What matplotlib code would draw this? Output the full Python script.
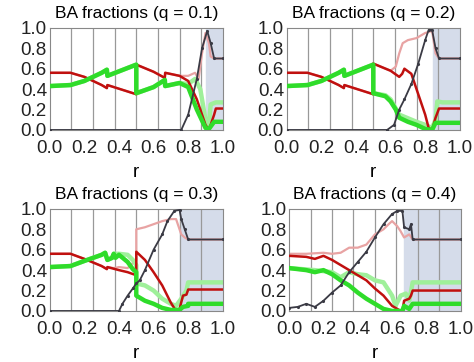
import numpy as np
import matplotlib.pyplot as plt

plt.rcParams['font.family'] = ['Liberation Sans', 'DejaVu Sans']

titles = ['BA fractions (q = 0.1)', 'BA fractions (q = 0.2)',
          'BA fractions (q = 0.3)', 'BA fractions (q = 0.4)']
shade_start = [0.905, 0.845, 0.75, 0.667]
grid_x = [0.125, 0.25, 0.375, 0.5, 0.625, 0.75, 0.875]
x_ticks = [0.0, 0.2, 0.4, 0.6, 0.8, 1.0]
y_ticks = [0.0, 0.2, 0.4, 0.6, 0.8, 1.0]

# q = 0.1
red_x1 = [0, 0.12, 0.2, 0.3, 0.33, 0.333, 0.5, 0.5, 0.6, 0.665, 0.667, 0.75, 0.8, 0.85, 0.9, 0.92, 0.95, 0.96, 1.0]
red_y1 = [0.56, 0.56, 0.52, 0.44, 0.41, 0.44, 0.35, 0.64, 0.57, 0.51, 0.56, 0.53, 0.48, 0.3, 0.05, 0.0, 0.15, 0.21, 0.21]
grn_x1 = [0, 0.12, 0.2, 0.3, 0.33, 0.333, 0.5, 0.5, 0.6, 0.665, 0.667, 0.75, 0.8, 0.85, 0.9, 0.92, 0.95, 1.0]
grn_y1 = [0.43, 0.44, 0.48, 0.56, 0.59, 0.53, 0.64, 0.36, 0.42, 0.49, 0.43, 0.46, 0.42, 0.2, 0.02, 0.01, 0.08, 0.08]
blk_x1 = [0, 0.76, 0.8, 0.85, 0.88, 0.91, 0.93, 0.95, 1.0]
blk_y1 = [0, 0, 0.15, 0.5, 0.8, 0.97, 0.85, 0.7, 0.7]
pnk_x1 = [0, 0.12, 0.2, 0.3, 0.33, 0.333, 0.5, 0.5, 0.6, 0.665, 0.667, 0.75, 0.8, 0.84, 0.86, 0.88, 0.9, 0.92, 0.93, 0.95, 1.0]
pnk_y1 = [0.56, 0.56, 0.52, 0.44, 0.41, 0.44, 0.35, 0.64, 0.57, 0.51, 0.56, 0.53, 0.53, 0.56, 0.5, 0.75, 0.95, 0.85, 0.72, 0.7, 0.7]
lgr_x1 = [0, 0.12, 0.2, 0.3, 0.33, 0.333, 0.5, 0.5, 0.6, 0.665, 0.667, 0.75, 0.8, 0.84, 0.87, 0.9, 0.92, 0.93, 0.96, 1.0]
lgr_y1 = [0.43, 0.44, 0.48, 0.56, 0.59, 0.53, 0.64, 0.36, 0.42, 0.49, 0.43, 0.46, 0.45, 0.5, 0.4, 0.1, 0.05, 0.25, 0.27, 0.27]

# q = 0.2
red_x2 = [0, 0.12, 0.2, 0.3, 0.33, 0.333, 0.5, 0.5, 0.6, 0.65, 0.667, 0.68, 0.72, 0.75, 0.8, 0.82, 0.84, 0.86, 0.88, 1.0]
red_y2 = [0.56, 0.56, 0.52, 0.44, 0.41, 0.44, 0.35, 0.65, 0.58, 0.52, 0.55, 0.6, 0.55, 0.4, 0.15, 0.02, 0.0, 0.12, 0.21, 0.21]
grn_x2 = [0, 0.12, 0.2, 0.3, 0.33, 0.333, 0.5, 0.5, 0.57, 0.6, 0.63, 0.65, 0.7, 0.75, 0.8, 0.84, 0.86, 1.0]
grn_y2 = [0.43, 0.44, 0.48, 0.56, 0.59, 0.53, 0.64, 0.36, 0.33, 0.28, 0.2, 0.12, 0.08, 0.05, 0.01, 0.0, 0.07, 0.07]
blk_x2 = [0, 0.58, 0.62, 0.65, 0.68, 0.72, 0.76, 0.8, 0.82, 0.84, 0.86, 0.88, 1.0]
blk_y2 = [0, 0, 0.05, 0.2, 0.3, 0.45, 0.65, 0.88, 0.98, 0.98, 0.8, 0.7, 0.7]
pnk_x2 = [0, 0.12, 0.2, 0.3, 0.33, 0.333, 0.5, 0.5, 0.6, 0.63, 0.65, 0.67, 0.7, 0.75, 0.8, 0.84, 0.86, 0.88, 1.0]
pnk_y2 = [0.56, 0.56, 0.52, 0.44, 0.41, 0.44, 0.35, 0.65, 0.58, 0.62, 0.75, 0.85, 0.88, 0.9, 0.95, 0.97, 0.75, 0.7, 0.7]
lgr_x2 = [0, 0.12, 0.2, 0.3, 0.33, 0.333, 0.5, 0.5, 0.57, 0.6, 0.65, 0.75, 0.8, 0.84, 0.86, 0.87, 0.9, 1.0]
lgr_y2 = [0.43, 0.44, 0.48, 0.56, 0.59, 0.53, 0.64, 0.36, 0.34, 0.3, 0.15, 0.08, 0.05, 0.02, 0.1, 0.28, 0.27, 0.27]

# q = 0.3
red_x3 = [0, 0.12, 0.2, 0.3, 0.33, 0.333, 0.4, 0.45, 0.5, 0.5, 0.55, 0.6, 0.65, 0.7, 0.73, 0.75, 0.77, 0.79, 0.8, 1.0]
red_y3 = [0.56, 0.56, 0.51, 0.44, 0.41, 0.43, 0.4, 0.38, 0.35, 0.58, 0.5, 0.38, 0.25, 0.08, 0.0, 0.02, 0.15, 0.16, 0.21, 0.21]
grn_x3 = [0, 0.12, 0.2, 0.3, 0.32, 0.333, 0.36, 0.37, 0.38, 0.4, 0.45, 0.48, 0.5, 0.5, 0.55, 0.6, 0.65, 0.7, 0.75, 0.77, 0.8, 0.8, 1.0]
grn_y3 = [0.43, 0.44, 0.49, 0.55, 0.57, 0.5, 0.52, 0.56, 0.52, 0.55, 0.48, 0.41, 0.38, 0.15, 0.1, 0.07, 0.03, 0.01, 0.01, 0.04, 0.05, 0.07, 0.07]
blk_x3 = [0, 0.4, 0.42, 0.45, 0.48, 0.5, 0.52, 0.55, 0.6, 0.65, 0.68, 0.72, 0.75, 0.76, 0.78, 0.8, 1.0]
blk_y3 = [0, 0, 0.07, 0.15, 0.22, 0.27, 0.3, 0.4, 0.6, 0.75, 0.88, 0.98, 0.99, 0.9, 0.8, 0.7, 0.7]
pnk_x3 = [0, 0.12, 0.2, 0.3, 0.33, 0.333, 0.37, 0.4, 0.45, 0.48, 0.5, 0.5, 0.55, 0.6, 0.65, 0.7, 0.73, 0.76, 0.78, 0.8, 1.0]
pnk_y3 = [0.56, 0.56, 0.51, 0.44, 0.41, 0.43, 0.42, 0.43, 0.42, 0.47, 0.5, 0.8, 0.82, 0.85, 0.88, 0.9, 0.9, 0.75, 0.72, 0.7, 0.7]
lgr_x3 = [0, 0.12, 0.2, 0.3, 0.32, 0.333, 0.36, 0.37, 0.4, 0.45, 0.48, 0.5, 0.5, 0.55, 0.6, 0.65, 0.7, 0.73, 0.76, 0.79, 0.8, 1.0]
lgr_y3 = [0.43, 0.44, 0.49, 0.55, 0.57, 0.5, 0.52, 0.56, 0.56, 0.55, 0.5, 0.45, 0.27, 0.25, 0.2, 0.12, 0.07, 0.05, 0.12, 0.2, 0.28, 0.28]

# q = 0.4
red_x4 = [0, 0.1, 0.15, 0.2, 0.25, 0.3, 0.35, 0.4, 0.45, 0.5, 0.55, 0.6, 0.65, 0.66, 0.67, 0.7, 0.71, 0.72, 1.0]
red_y4 = [0.54, 0.53, 0.51, 0.54, 0.5, 0.45, 0.4, 0.35, 0.3, 0.22, 0.15, 0.05, 0.0, 0.0, 0.1, 0.12, 0.15, 0.2, 0.2]
grn_x4 = [0, 0.1, 0.15, 0.2, 0.25, 0.3, 0.35, 0.4, 0.45, 0.5, 0.55, 0.6, 0.66, 0.67, 0.7, 0.72, 1.0]
grn_y4 = [0.42, 0.4, 0.38, 0.4, 0.36, 0.3, 0.25, 0.18, 0.12, 0.07, 0.02, 0.0, 0.0, 0.05, 0.02, 0.07, 0.07]
blk_x4 = [0, 0.05, 0.1, 0.15, 0.2, 0.25, 0.3, 0.35, 0.4, 0.45, 0.5, 0.55, 0.6, 0.63, 0.66, 0.67, 0.7, 0.71, 0.72, 1.0]
blk_y4 = [0.03, 0.04, 0.07, 0.04, 0.1, 0.18, 0.25, 0.38, 0.48, 0.58, 0.72, 0.85, 0.95, 0.98, 0.98, 0.82, 0.8, 0.85, 0.7, 0.7]
pnk_x4 = [0, 0.1, 0.2, 0.25, 0.3, 0.35, 0.4, 0.45, 0.5, 0.55, 0.58, 0.6, 0.63, 0.65, 0.67, 0.7, 0.72, 1.0]
pnk_y4 = [0.56, 0.56, 0.57, 0.56, 0.57, 0.62, 0.62, 0.65, 0.75, 0.8, 0.85, 0.88, 0.83, 0.78, 0.72, 0.75, 0.7, 0.7]
lgr_x4 = [0, 0.15, 0.25, 0.3, 0.35, 0.4, 0.45, 0.5, 0.55, 0.6, 0.62, 0.65, 0.68, 0.7, 0.72, 1.0]
lgr_y4 = [0.42, 0.4, 0.38, 0.33, 0.38, 0.36, 0.35, 0.3, 0.28, 0.15, 0.05, 0.15, 0.17, 0.1, 0.28, 0.28]

panels = [
    (red_x1, red_y1, grn_x1, grn_y1, blk_x1, blk_y1, pnk_x1, pnk_y1, lgr_x1, lgr_y1),
    (red_x2, red_y2, grn_x2, grn_y2, blk_x2, blk_y2, pnk_x2, pnk_y2, lgr_x2, lgr_y2),
    (red_x3, red_y3, grn_x3, grn_y3, blk_x3, blk_y3, pnk_x3, pnk_y3, lgr_x3, lgr_y3),
    (red_x4, red_y4, grn_x4, grn_y4, blk_x4, blk_y4, pnk_x4, pnk_y4, lgr_x4, lgr_y4),
]

positions = [
    [0.105, 0.641, 0.365, 0.282],
    [0.605, 0.641, 0.365, 0.282],
    [0.105, 0.141, 0.365, 0.282],
    [0.610, 0.141, 0.362, 0.282],
]

fig = plt.figure(figsize=(4.74, 3.62), dpi=100)

for i in range(4):
    rx, ry, gx, gy, bx, by, px, py, lx, ly = panels[i]
    ax = fig.add_axes(positions[i])
    ax.axvspan(shade_start[i], 1.0, color='#d5dcea', zorder=0)
    for g in grid_x:
        ax.axvline(g, color='#999999', lw=0.9, zorder=1)
    ax.plot(px, py, color='#e8a3a3', lw=1.6, zorder=2)
    ax.plot(lx, ly, color='#9ff09a', lw=3.2, zorder=2)
    ax.plot(rx, ry, color='#c0100f', lw=1.8, zorder=3)
    ax.plot(gx, gy, color='#2fdc2a', lw=3.2, zorder=3)
    ax.plot(bx, by, color='#3a3a44', lw=1.3, marker='.', ms=2.5, zorder=4)
    ax.set_xlim(0, 1)
    ax.set_ylim(0, 1)
    ax.set_xticks(x_ticks)
    ax.set_yticks(y_ticks)
    ax.set_xticklabels(['%.1f' % t for t in x_ticks])
    ax.set_yticklabels(['%.1f' % t for t in y_ticks])
    ax.tick_params(labelsize=13.5, length=0, colors='#222222')
    ax.tick_params(axis='x', pad=7)
    ax.tick_params(axis='y', pad=2)
    for s in ax.spines.values():
        s.set_color('#888888')
        s.set_linewidth(0.8)
    ax.set_title(titles[i], fontsize=12.5, pad=7)
    ax.set_xlabel('r', fontsize=13.5, labelpad=5)

fig.savefig('out.png', dpi=100)
